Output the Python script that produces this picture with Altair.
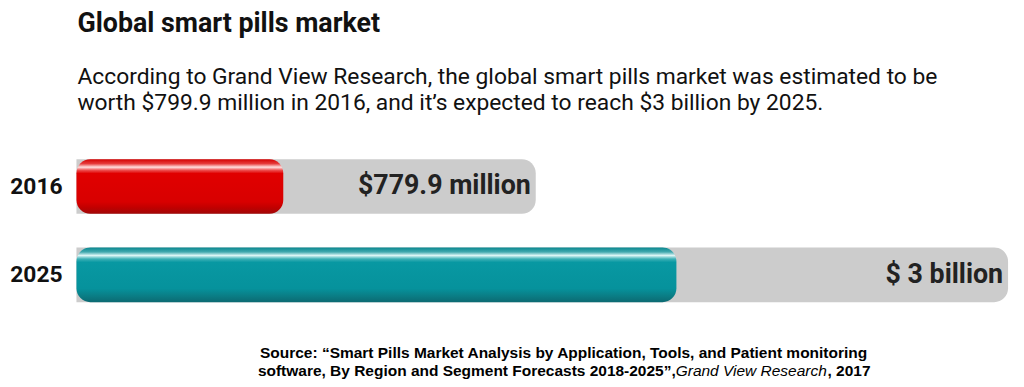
import altair as alt
import pandas as pd

# ---- data ----
years = ["2016", "2025"]
track_len = [49.3, 100]        # grey track length (relative units, 0-100)
fill_len = [22.2, 64.4]        # coloured fill length (relative units)
value_labels = ["$779.9 million", "$ 3 billion"]

title_text = "Global smart pills market"
subtitle_lines = [
    "According to Grand View Research, the global smart pills market was estimated to be",
    "worth $799.9 million in 2016, and it\u2019s expected to reach $3 billion by 2025.",
]
source_line1 = "Source: \u201cSmart Pills Market Analysis by Application, Tools, and Patient monitoring"
source_line2_a = "software, By Region and Segment Forecasts 2018-2025\u201d, "
source_line2_b = "Grand View Research"
source_line2_c = ", 2017"

df = pd.DataFrame({"year": years, "track": track_len, "fill": fill_len, "label": value_labels})

W, H = 1016, 371
x_scale = alt.Scale(domain=[0, 100], range=[69, 1008], nice=False, zero=True)
y_scale = alt.Scale(domain=years, range=[151, 295], paddingInner=0.382, paddingOuter=0)

Y = alt.Y("year:N", scale=y_scale, axis=None)
Ymid = alt.Y("year:N", scale=y_scale, axis=None, bandPosition=0.5)

base = alt.Chart(df).transform_calculate(zero="0")

track = base.mark_bar(color="#cccccc", cornerRadiusTopRight=14, cornerRadiusBottomRight=14).encode(
    x=alt.X("zero:Q", scale=x_scale, axis=None), x2="track:Q", y=Y
)

red_grad = alt.Gradient(
    gradient="linear", x1=0, y1=0, x2=0, y2=1,
    stops=[
        alt.GradientStop(offset=0.0, color="#d40000"),
        alt.GradientStop(offset=0.08, color="#e63a3a"),
        alt.GradientStop(offset=0.145, color="#ffe0e0"),
        alt.GradientStop(offset=0.20, color="#ee5050"),
        alt.GradientStop(offset=0.26, color="#e00000"),
        alt.GradientStop(offset=0.78, color="#d80000"),
        alt.GradientStop(offset=0.88, color="#c20000"),
        alt.GradientStop(offset=1.0, color="#a00808"),
    ],
)
teal_grad = alt.Gradient(
    gradient="linear", x1=0, y1=0, x2=0, y2=1,
    stops=[
        alt.GradientStop(offset=0.0, color="#0a8890"),
        alt.GradientStop(offset=0.08, color="#40a8ae"),
        alt.GradientStop(offset=0.145, color="#dcf6f6"),
        alt.GradientStop(offset=0.21, color="#3cb0b6"),
        alt.GradientStop(offset=0.27, color="#0898a2"),
        alt.GradientStop(offset=0.75, color="#06929c"),
        alt.GradientStop(offset=0.88, color="#0a7e86"),
        alt.GradientStop(offset=1.0, color="#0c6a72"),
    ],
)

def fill_layer(year, grad):
    return base.transform_filter(alt.datum.year == year).mark_bar(
        color=grad, cornerRadius=14
    ).encode(x=alt.X("zero:Q", scale=x_scale, axis=None), x2="fill:Q", y=Y)

red = fill_layer("2016", red_grad)
teal = fill_layer("2025", teal_grad)

vals = base.mark_text(align="right", baseline="middle", dx=-5, dy=0, font="Roboto",
                      fontWeight="bold", fontSize=27, color="#222222").encode(
    x=alt.X("track:Q", scale=x_scale, axis=None), y=Ymid, text="label:N")

yrs = base.mark_text(align="right", baseline="middle", dx=-14, dy=0, font="Roboto",
                     fontWeight="bold", fontSize=23, color="#111111").encode(
    x=alt.X("zero:Q", scale=x_scale, axis=None), y=Ymid, text="year:N")

def label(text, x, y, **kw):
    return alt.Chart(pd.DataFrame({"t": [text]})).mark_text(**kw).encode(
        x=alt.value(x), y=alt.value(y), text="t:N")

title = label(title_text, 70, 23, align="left", baseline="alphabetic", font="Roboto",
              fontWeight="bold", fontSize=27, color="#111111")
sub1 = label(subtitle_lines[0], 70, 75, align="left", baseline="alphabetic", font="Roboto",
             fontSize=23, color="#111111")
sub2 = label(subtitle_lines[1], 70, 101, align="left", baseline="alphabetic", font="Roboto",
             fontSize=23, color="#111111")

src_font = "Liberation Sans, Arial, sans-serif"
fs = 15.6
src1 = label(source_line1, 560, 351, align="center", baseline="alphabetic", font=src_font,
             fontWeight="bold", fontSize=fs, color="#000000")
src2a = label(source_line2_a, 673, 369, align="right", baseline="alphabetic", font=src_font,
              fontWeight="bold", fontSize=fs, color="#000000")
src2b = label(source_line2_b, 673, 369, align="left", baseline="alphabetic", font=src_font,
              fontStyle="italic", fontSize=fs, color="#000000")
src2c = label(source_line2_c, 826, 369, align="left", baseline="alphabetic", font=src_font,
              fontWeight="bold", fontSize=fs, color="#000000")

chart = alt.layer(track, red, teal, vals, yrs, title, sub1, sub2, src1, src2a, src2b, src2c).properties(
    width=W, height=H, autosize=alt.AutoSizeParams(type="none"), padding=0
).configure_view(stroke=None)

chart.save("out.html", embed_options={"renderer": "svg", "actions": False})
